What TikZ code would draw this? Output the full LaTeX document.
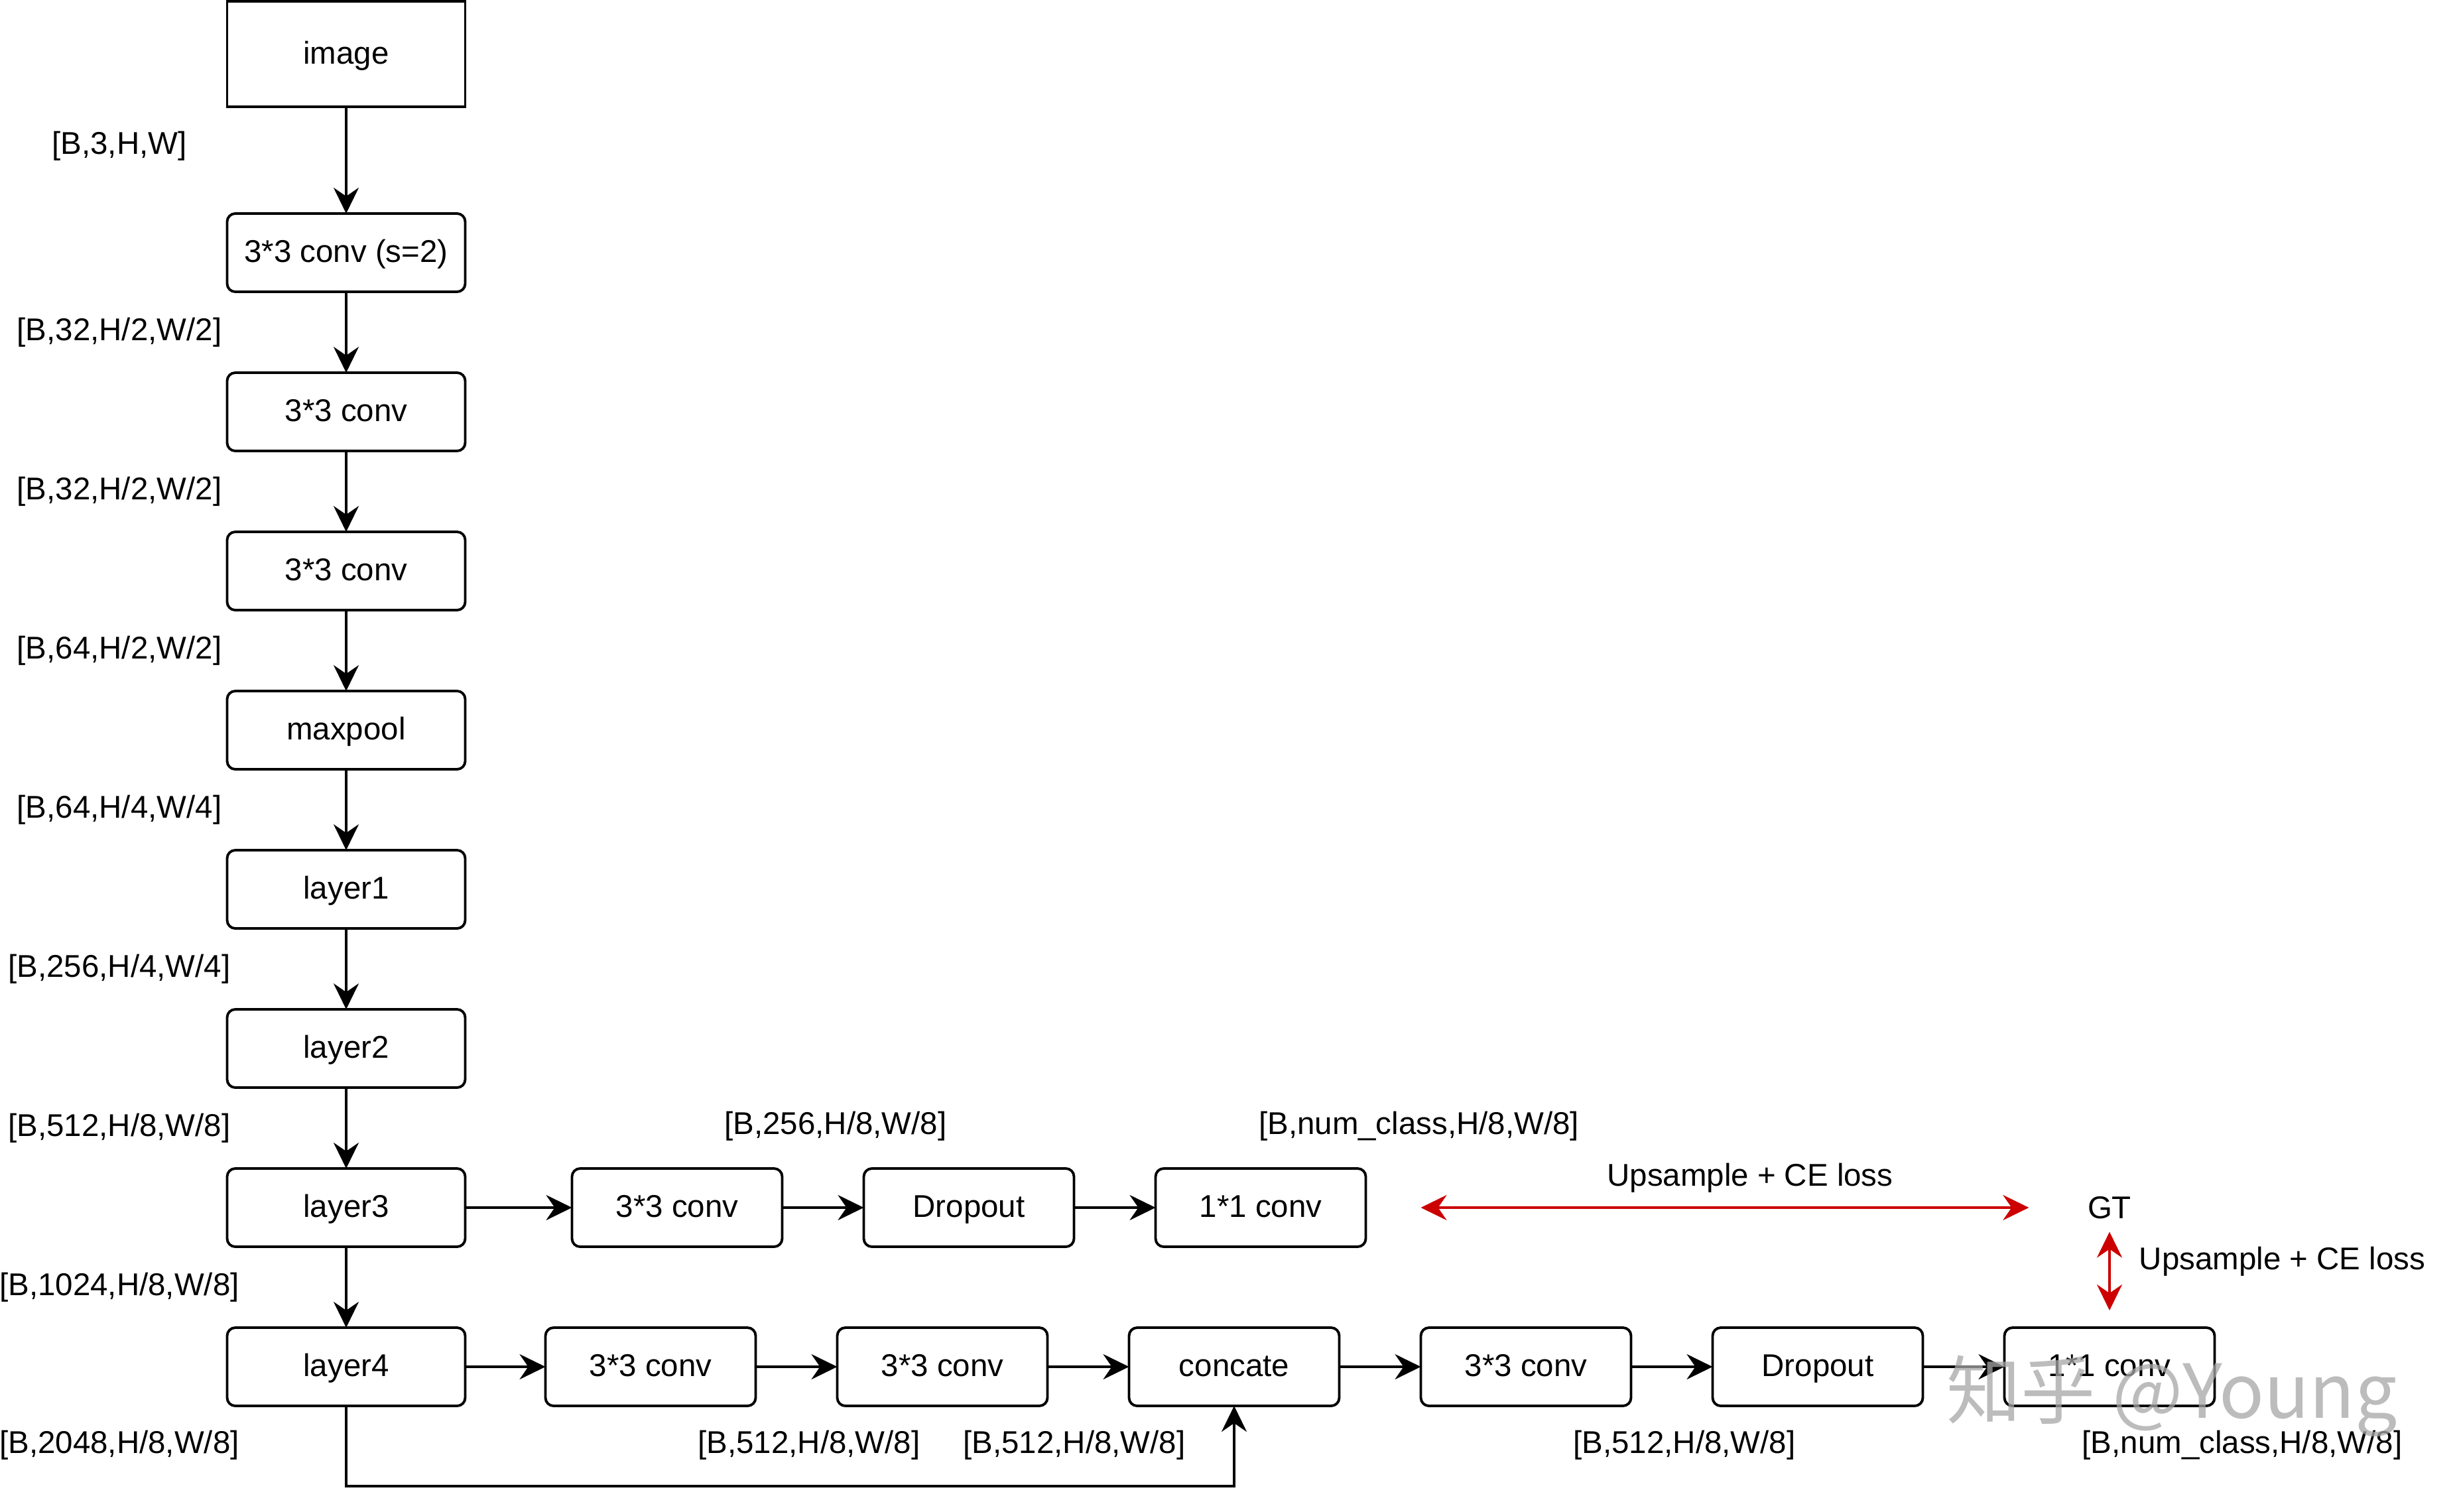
\documentclass[tikz,border=0pt]{standalone}
\usepackage{fontspec}
\setmainfont{Liberation Sans}
\newfontfamily\cjkfont{Noto Sans CJK SC}
\usetikzlibrary{positioning, arrows.meta, calc}
\definecolor{lossred}{HTML}{CC0000}

\begin{document}
\begin{tikzpicture}[
    font=\fontsize{13.5}{16}\selectfont,
    node distance=1.22cm and 1.23cm,
    every node/.style={align=center},
    block/.style={
        draw, line width=1.1pt, rounded corners=3.5pt,
        inner sep=0pt, outer sep=0pt, minimum height=1.18cm,
        text height=1.95ex, text depth=0.35ex
    },
    stem/.style={block, minimum width=3.59cm},
    branch/.style={block, minimum width=3.17cm},
    inputbox/.style={
        draw, line width=1.1pt, inner sep=0pt, outer sep=0pt,
        minimum width=3.59cm, minimum height=1.59cm,
        text height=1.95ex, text depth=0.35ex
    },
    dim/.style={inner sep=0pt},
    flow/.style={-{Stealth[length=3.9mm, width=3.8mm, inset=1.3mm]}, line width=1.1pt},
    loss/.style={{Stealth[length=3.9mm, width=3.8mm, inset=1.3mm]}-{Stealth[length=3.9mm, width=3.8mm, inset=1.3mm]},
        line width=1.1pt, color=lossred}
]
\useasboundingbox (0,0) rectangle (37.08,-22.80);

% --------------------------------------------------------------------------
% Backbone column: image -> stem convs -> residual stages.
% --------------------------------------------------------------------------
\node[inputbox] (image) at (5.22,-0.815) {image};
\node[stem, below=1.61cm of image] (stem1) {3*3 conv (s=2)};
\node[stem, below=of stem1] (stem2) {3*3 conv};
\node[stem, below=of stem2] (stem3) {3*3 conv};
\node[stem, below=of stem3] (pool) {maxpool};
\node[stem, below=of pool] (layer1) {layer1};
\node[stem, below=of layer1] (layer2) {layer2};
\node[stem, below=of layer2] (layer3) {layer3};
\node[stem, below=of layer3] (layer4) {layer4};

% Auxiliary head on layer3.
\node[branch, right=1.61cm of layer3] (aux1) {3*3 conv};
\node[branch, right=of aux1] (auxdrop) {Dropout};
\node[branch, right=of auxdrop] (auxhead) {1*1 conv};

% Main head on layer4.
\node[branch, right=1.21cm of layer4] (ctx1) {3*3 conv};
\node[branch, right=of ctx1] (ctx2) {3*3 conv};
\node[branch, right=of ctx2] (cat) {concate};
\node[branch, right=of cat] (fuse) {3*3 conv};
\node[branch, right=of fuse] (drop) {Dropout};
\node[branch, right=of drop] (head) {1*1 conv};

\node[dim] (gt) at (head |- auxhead) {GT};

% Backbone flow with tensor shapes.
\draw[flow] (image) -- (stem1);
\draw[flow] (stem1) -- (stem2);
\draw[flow] (stem2) -- (stem3);
\draw[flow] (stem3) -- (pool);
\draw[flow] (pool) -- (layer1);
\draw[flow] (layer1) -- (layer2);
\draw[flow] (layer2) -- (layer3);
\draw[flow] (layer3) -- (layer4);

\path (image) -- node[dim, xshift=-3.42cm, yshift=2.1mm] (dimA) {[B,3,H,W]} (stem1);
\path (stem1) -- node[dim, xshift=-3.42cm] (dimB) {[B,32,H/2,W/2]} (stem2);
\path (stem2) -- node[dim, xshift=-3.42cm] (dimC) {[B,32,H/2,W/2]} (stem3);
\path (stem3) -- node[dim, xshift=-3.42cm] (dimD) {[B,64,H/2,W/2]} (pool);
\path (pool) -- node[dim, xshift=-3.42cm] (dimE) {[B,64,H/4,W/4]} (layer1);
\path (layer1) -- node[dim, xshift=-3.42cm] (dimF) {[B,256,H/4,W/4]} (layer2);
\path (layer2) -- node[dim, xshift=-3.42cm] (dimG) {[B,512,H/8,W/8]} (layer3);
\path (layer3) -- node[dim, xshift=-3.42cm] (dimH) {[B,1024,H/8,W/8]} (layer4);
\node[dim] (dimI) at ([xshift=-3.42cm, yshift=-0.59cm]layer4.south) {[B,2048,H/8,W/8]};

% Auxiliary branch.
\draw[flow] (layer3) -- (aux1);
\draw[flow] (aux1) -- (auxdrop);
\draw[flow] (auxdrop) -- (auxhead);
\path (aux1) -- node[dim, xshift=1.9mm, yshift=12.3mm] (dimT1) {[B,256,H/8,W/8]} (auxdrop);
\node[dim] (dimT2) at ([xshift=8mm, yshift=12.3mm]auxhead.east) {[B,num\_class,H/8,W/8]};

% Main branch, with layer4 skip into concate.
\draw[flow] (layer4) -- (ctx1);
\draw[flow] (ctx1) -- (ctx2);
\draw[flow] (ctx2) -- (cat);
\draw[flow] (cat) -- (fuse);
\draw[flow] (fuse) -- (drop);
\draw[flow] (drop) -- (head);
\draw[flow] (layer4.south) -- ++(0,-1.21) -| (cat.south);
\path (ctx1) -- node[dim, xshift=1.9mm, yshift=-11.8mm] (dimB1) {[B,512,H/8,W/8]} (ctx2);
\path (ctx2) -- node[dim, xshift=-2.1mm, yshift=-11.8mm] (dimB2) {[B,512,H/8,W/8]} (cat);
\path (fuse) -- node[dim, xshift=1.9mm, yshift=-11.8mm] (dimB3) {[B,512,H/8,W/8]} (drop);
\node[dim] (dimB4) at ([xshift=2cm, yshift=-11.8mm]head.center) {[B,num\_class,H/8,W/8]};

% Red arrows: losses against the ground truth.
\draw[loss] ([xshift=8.3mm]auxhead.east) -- node[dim, above=2.1mm, xshift=3.8mm, text=black] {Upsample + CE loss} ([xshift=-8.8mm]gt.west);
\draw[loss] ([yshift=-1.9mm]gt.south) -- node[dim, right=4.3mm, yshift=1.5mm, text=black] {Upsample + CE loss} ([yshift=2.6mm]head.north);

% Watermark.
\node[text=gray!70, opacity=0.75, font=\cjkfont\fontsize{32}{36}\selectfont] (mark) at (32.75,-21.05) {知乎 @Young};

\end{tikzpicture}
\end{document}
